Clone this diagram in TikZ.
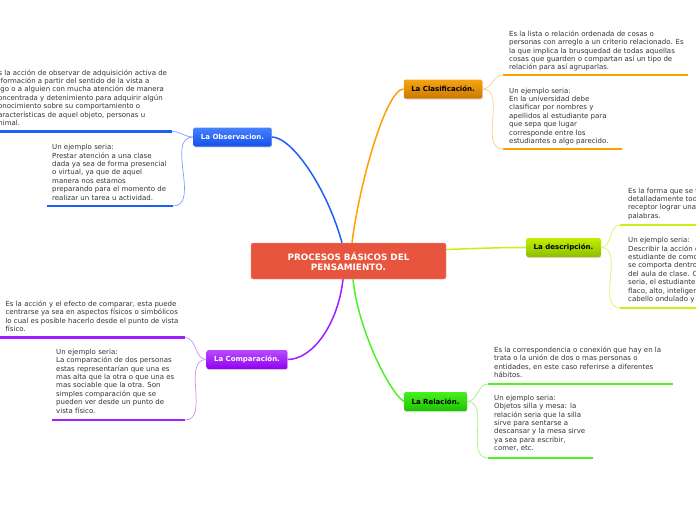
\documentclass[tikz,border=0pt]{standalone}
\usepackage{fontspec}
\setmainfont{DejaVu Sans}
\usetikzlibrary{positioning, shadows}

\definecolor{centro}{RGB}{232,85,62}
\definecolor{texto}{RGB}{51,51,51}
\definecolor{azul}{RGB}{30,95,245}
\definecolor{azulA}{RGB}{70,130,255}
\definecolor{azulB}{RGB}{20,80,235}
\definecolor{azulC}{RGB}{130,160,255}
\definecolor{naranja}{RGB}{255,160,0}
\definecolor{naranjaA}{RGB}{245,165,20}
\definecolor{naranjaB}{RGB}{205,120,0}
\definecolor{naranjaC}{RGB}{255,205,130}
\definecolor{lima}{RGB}{200,240,20}
\definecolor{limaA}{RGB}{195,240,0}
\definecolor{limaB}{RGB}{140,190,0}
\definecolor{limaC}{RGB}{215,245,90}
\definecolor{morado}{RGB}{160,30,255}
\definecolor{moradoA}{RGB}{185,75,255}
\definecolor{moradoB}{RGB}{145,0,240}
\definecolor{moradoC}{RGB}{205,140,255}
\definecolor{verde}{RGB}{80,240,40}
\definecolor{verdeA}{RGB}{70,240,30}
\definecolor{verdeB}{RGB}{30,195,0}
\definecolor{verdeC}{RGB}{150,245,120}

\begin{document}
\begin{tikzpicture} [x=1pt, y=1pt,
            on grid,
            topic/.style = {rounded corners=2pt,
                minimum height=19pt,
                inner xsep=7.5pt,
                font=\fontsize{7}{8}\selectfont\bfseries,
                drop shadow={opacity=0.25, shadow xshift=0.6pt, shadow yshift=-1pt}},
            note/.style = {anchor=north west,
                align=left,
                inner sep=0pt,
                text=texto,
                font=\fontsize{7}{8.4}\selectfont},
            branch/.style = {line width=1.5pt},
            twig/.style = {line width=0.7pt},
            uline/.style = {line width=2.2pt}]

        \useasboundingbox (0,0) rectangle (696,-520);
        \clip (0,0) rectangle (696,-520);

        % Central topic
        \node (cen) [fill=centro,
            draw=centro!60!white,
            rounded corners=2pt,
            minimum width=195pt,
            minimum height=36pt,
            text=white,
            align=center,
            font=\fontsize{8.8}{10}\selectfont\bfseries] at (348.5,-261) {PROCESOS BÁSICOS DEL\\PENSAMIENTO.};

        % La Observacion
        \node (obs) [topic, top color=azulA, bottom color=azulB, text=white,
            above left = 124pt and 116pt of cen] {La Observacion.};

        % La Clasificacion
        \node (cla) [topic, top color=naranjaA, bottom color=naranjaB, text=black,
            above right = 172pt and 94.5pt of cen] {La Clasificación.};

        % La descripcion
        \node (des) [topic, top color=limaA, bottom color=limaB, text=black,
            above right = 13.5pt and 215pt of cen] {La descripción.};

        % La Comparacion
        \node (com) [topic, top color=moradoA, bottom color=moradoB, text=white,
            below left = 98.5pt and 101.5pt of cen] {La Comparación.};

        % La Relacion
        \node (rel) [topic, top color=verdeA, bottom color=verdeB, text=black,
            below right = 140.5pt and 87pt of cen] {La Relación.};

        % Notes of La Observacion
        \node (ot1) [note] at (-6,-69.2) {Es la acción de observar de adquisición activa de\\información a partir del sentido de la vista a\\algo o a alguien con mucha atención de manera\\concentrada y detenimiento para adquirir algún\\conocimiento sobre su comportamiento o\\características de aquel objeto, personas u\\animal.};
        \node (ot2) [note] at (52,-144.2) {Un ejemplo seria:\\Prestar atención a una clase\\dada ya sea de forma presencial\\o virtual, ya que de aquel\\manera nos estamos\\preparando para el momento de\\realizar un tarea u actividad.};
        \coordinate (ot1a) at (-8,-131.5);
        \coordinate (ot1b) at (172,-131.5);
        \coordinate (ot2a) at (47,-206);
        \coordinate (ot2b) at (173,-206);

        % Notes of La Clasificacion
        \node (ct1) [note] at (509,-30.5) {Es la lista o relación ordenada de cosas o\\personas con arreglo a un criterio relacionado. Es\\la que implica la brusquedad de todas aquellas\\cosas que guarden o compartan así un tipo de\\relación para así agruparlas.};
        \node (ct2) [note] at (509,-87.5) {Un ejemplo seria:\\En la universidad debe\\clasificar por nombres y\\apellidos al estudiante para\\que sepa que lugar\\corresponde entre los\\estudiantes o algo parecido.};
        \coordinate (ct1a) at (503,-75);
        \coordinate (ct1b) at (688,-75);
        \coordinate (ct2a) at (503,-149);
        \coordinate (ct2b) at (622,-149);

        % Notes of La descripcion
        \node (dt1) [note] at (628,-187.5) {Es la forma que se tiene\\detalladamente todo\\receptor lograr una\\palabras.};
        \node (dt2) [note] at (628,-237.2) {Un ejemplo seria:\\Describir la acción de\\estudiante de como\\se comporta dentro\\del aula de clase. O\\seria, el estudiante\\flaco, alto, inteligente\\cabello ondulado y};
        \coordinate (dt1a) at (620,-225);
        \coordinate (dt1b) at (700,-225);
        \coordinate (dt2a) at (620,-307.7);
        \coordinate (dt2b) at (700,-307.7);

        % Notes of La Comparacion
        \node (mt1) [note] at (5.3,-300.5) {Es la acción y el efecto de comparar, esta puede\\centrarse ya sea en aspectos físicos o simbólicos\\lo cual es posible hacerlo desde el punto de vista\\físico.};
        \node (mt2) [note] at (56,-348.8) {Un ejemplo seria:\\La comparación de dos personas\\estas representarían que una es\\mas alta que la otra o que una es\\mas sociable que la otra. Son\\simples comparación que se\\pueden ver desde un punto de\\vista físico.};
        \coordinate (mt1a) at (-2,-337.5);
        \coordinate (mt1b) at (185,-337.5);
        \coordinate (mt2a) at (52,-420);
        \coordinate (mt2b) at (185,-420);

        % Notes of La Relacion
        \node (rt1) [note] at (494,-346.5) {Es la correspondencia o conexión que hay en la\\trata o la unión de dos o mas personas o\\entidades, en este caso referirse a diferentes\\hábitos.};
        \node (rt2) [note] at (494,-394.8) {Un ejemplo seria:\\Objetos silla y mesa: la\\relación seria que la silla\\sirve para sentarse a\\descansar y la mesa sirve\\ya sea para escribir,\\comer, etc.};
        \coordinate (rt1a) at (488,-384);
        \coordinate (rt1b) at (673,-384);
        \coordinate (rt2a) at (488,-458);
        \coordinate (rt2b) at (593,-458);

        % Branches
        \draw [branch, azul] ([xshift=-6.5pt]cen.north) .. controls +(-15,55) and +(20,0) .. (obs.east);
        \draw [branch, naranja] ([xshift=3.5pt]cen.north) .. controls +(8,63) and +(-17,0) .. (cla.west);
        \draw [branch, lima] ([yshift=11.5pt]cen.east) .. controls +(30,1) and +(-30,0) .. (des.west);
        \draw [branch, morado] ([xshift=-5.5pt]cen.south) .. controls +(-5,-45) and +(25,0) .. (com.east);
        \draw [branch, verde] ([xshift=4.5pt]cen.south) .. controls +(5,-50) and +(-15,10) .. (rel.west);

        % Underlines
        \draw [uline, azul] (ot1a) -- (ot1b);
        \draw [uline, azul] (ot2a) -- (ot2b);
        \draw [uline, naranja] (ct1a) -- (ct1b);
        \draw [uline, naranja] (ct2a) -- (ct2b);
        \draw [uline, lima] (dt1a) -- (dt1b);
        \draw [uline, lima] (dt2a) -- (dt2b);
        \draw [uline, morado] (mt1a) -- (mt1b);
        \draw [uline, morado] (mt2a) -- (mt2b);
        \draw [uline, verde] (rt1a) -- (rt1b);
        \draw [uline, verde] (rt2a) -- (rt2b);

        % Twigs
        \draw [twig, azulC] (obs.west) to [out=180, in=0] (ot1b);
        \draw [twig, azulC] (obs.west) to [out=180, in=0] (ot2b);
        \draw [twig, naranjaC] (cla.east) to [out=0, in=180] (ct1a);
        \draw [twig, naranjaC] (cla.east) to [out=0, in=180] (ct2a);
        \draw [twig, limaC] (des.east) to [out=0, in=180] (dt1a);
        \draw [twig, limaC] (des.east) to [out=0, in=180] (dt2a);
        \draw [twig, moradoC] (com.west) to [out=180, in=0] (mt1b);
        \draw [twig, moradoC] (com.west) to [out=180, in=0] (mt2b);
        \draw [twig, verdeC] (rel.east) to [out=0, in=180] (rt1a);
        \draw [twig, verdeC] (rel.east) to [out=0, in=180] (rt2a);
\end{tikzpicture}
\end{document}
